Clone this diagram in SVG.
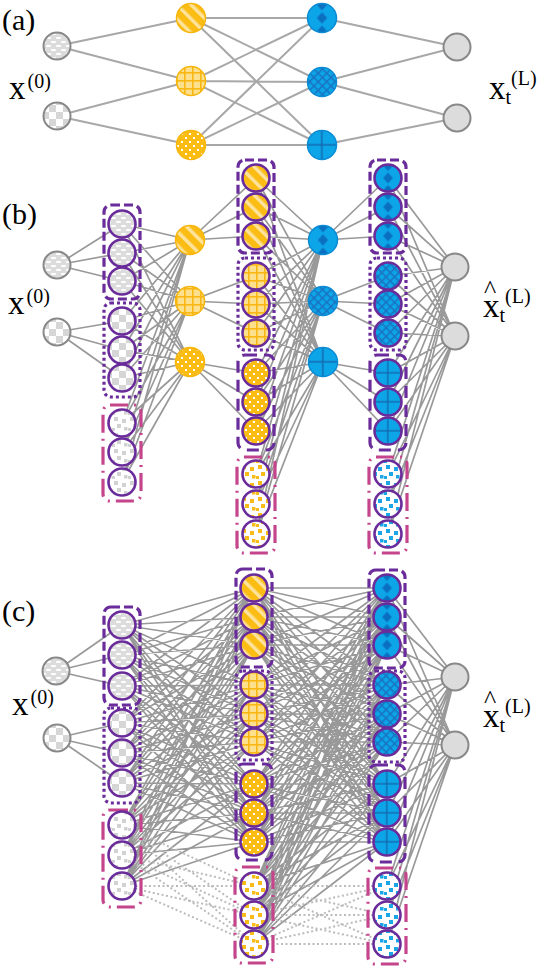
<svg xmlns="http://www.w3.org/2000/svg" width="541" height="967" viewBox="0 0 541 967">
<style>
.lbl{font-family:"Liberation Serif","Times New Roman","DejaVu Serif",serif;font-size:33px;fill:#000}
.hat{font-family:"Liberation Serif","Times New Roman","DejaVu Serif",serif;font-size:26px;fill:#000}
.pl{font-family:"Liberation Serif","Times New Roman","DejaVu Serif",serif;font-size:30px;fill:#000}
.ea{stroke:#a8a8a8;stroke-width:2;fill:none}
.e{stroke:#999;stroke-width:1.7;fill:none}
.ed{stroke:#bbb;stroke-width:2;fill:none;stroke-dasharray:2 2.5}
.in1{fill:url(#gBrick);stroke:#888;stroke-width:2}
.in2{fill:url(#gCheck);stroke:#888;stroke-width:2}
.gs{fill:url(#gScat);stroke:#888;stroke-width:2}
.out{fill:#dcdcdc;stroke:#888;stroke-width:2}
.y1{fill:url(#yStripe);stroke:#f6b60d;stroke-width:1.5}
.y2{fill:url(#yGrid);stroke:#f6b60d;stroke-width:1.5}
.y3{fill:url(#yDots);stroke:#f6b60d;stroke-width:1.5}
.ys{fill:url(#yScat);stroke:#f6b60d;stroke-width:1.5}
.b1{fill:url(#bDia);stroke:#0a8bd4;stroke-width:1.5}
.b2{fill:url(#bHatch);stroke:#0a8bd4;stroke-width:1.5}
.b3{fill:url(#bCross);stroke:#0a8bd4;stroke-width:1.5}
.bs{fill:url(#bScat);stroke:#0a8bd4;stroke-width:1.5}
.cp{stroke:#6a2c9b;stroke-width:2.6}
.bx{fill:none;stroke:#6a2c9b;stroke-width:3.2}
.bx1{stroke-dasharray:9 4}
.bx2{stroke-dasharray:3 3}
.bx3{stroke-dasharray:12 7}
.bxp{fill:none;stroke:#c4458c;stroke-width:3.2;stroke-dasharray:18 6 2 6}
</style>
<defs>
<pattern id="gBrick" patternUnits="userSpaceOnUse" width="10" height="8">
<rect width="10" height="8" fill="#dcdcdc"/>
<rect x="1" y="1" width="5" height="2" rx="1" fill="#fff"/>
<rect x="6" y="5" width="5" height="2" rx="1" fill="#fff"/>
<rect x="-4" y="5" width="5" height="2" rx="1" fill="#fff"/>
</pattern>
<pattern id="gCheck" patternUnits="userSpaceOnUse" width="14" height="14">
<rect width="14" height="14" fill="#fff"/>
<rect width="7" height="7" fill="#d6d6d6"/>
<rect x="7" y="7" width="7" height="7" fill="#d6d6d6"/>
</pattern>
<pattern id="gScat" patternUnits="userSpaceOnUse" width="16" height="16">
<rect width="16" height="16" fill="#fff"/>
<g fill="#d2d2d2"><rect x="2" y="1" width="4" height="4"/><rect x="10" y="3" width="4" height="4"/><rect x="5" y="8" width="4" height="4"/><rect x="12" y="11" width="3.5" height="3.5"/><rect x="0" y="12" width="3" height="3"/></g>
</pattern>
<pattern id="yScat" patternUnits="userSpaceOnUse" width="16" height="16">
<rect width="16" height="16" fill="#fff"/>
<g fill="#f8bb18"><rect x="2" y="1" width="4" height="4"/><rect x="10" y="3" width="4" height="4"/><rect x="5" y="8" width="4" height="4"/><rect x="12" y="11" width="3.5" height="3.5"/><rect x="0" y="12" width="3" height="3"/></g>
</pattern>
<pattern id="bScat" patternUnits="userSpaceOnUse" width="16" height="16">
<rect width="16" height="16" fill="#fff"/>
<g fill="#1ba6e6"><rect x="2" y="1" width="4" height="4"/><rect x="10" y="3" width="4" height="4"/><rect x="5" y="8" width="4" height="4"/><rect x="12" y="11" width="3.5" height="3.5"/><rect x="0" y="12" width="3" height="3"/></g>
</pattern>
<pattern id="yStripe" patternUnits="userSpaceOnUse" width="10" height="10" patternTransform="rotate(-45)">
<rect width="10" height="10" fill="#fbbc14"/>
<rect width="3.5" height="10" fill="#fde39c"/>
</pattern>
<pattern id="yGrid" patternUnits="userSpaceOnUse" width="8" height="8">
<rect width="8" height="8" fill="#fde08e"/>
<rect width="8" height="1.6" fill="#f8b712"/>
<rect width="1.6" height="8" fill="#f8b712"/>
</pattern>
<pattern id="yDots" patternUnits="userSpaceOnUse" width="8" height="8">
<rect width="8" height="8" fill="#fbbc14"/>
<rect x="1" y="1" width="2" height="2" fill="#fff"/>
<rect x="5" y="5" width="2" height="2" fill="#fff"/>
</pattern>
<pattern id="bDia" width="1" height="1" patternContentUnits="objectBoundingBox">
<rect width="1" height="1" fill="#0ca6e8"/>
<g fill="#0b6fc0"><polygon points="0.5,0.3 0.68,0.5 0.5,0.7 0.32,0.5"/><polygon points="0.28,0 0.72,0 0.5,0.24"/><polygon points="0.28,1 0.72,1 0.5,0.76"/></g>
</pattern>
<pattern id="bHatch" patternUnits="userSpaceOnUse" width="6" height="6" patternTransform="rotate(45)">
<rect width="6" height="6" fill="#0ca6e8"/>
<rect width="6" height="1.5" fill="#1a72c0"/>
<rect width="1.5" height="6" fill="#1a72c0"/>
</pattern>
<pattern id="bCross" width="1" height="1" patternContentUnits="objectBoundingBox">
<rect width="1" height="1" fill="#0ca6e8"/>
<rect x="0.47" width="0.05" height="1" fill="#1465ad"/>
<rect y="0.47" width="1" height="0.05" fill="#1465ad"/>
</pattern>
</defs>
<rect width="541" height="967" fill="#fff"/>

<g id="connectors">
<path class="ea" d="M57 46 191 18M57 46 191 81M57 116 191 81M57 116 191 145M191 18 322 18M191 18 322 82M191 18 322 145M191 81 322 18M191 81 322 82M191 81 322 145M191 145 322 18M191 145 322 82M191 145 322 145M322 18 457 47M322 82 457 47M322 82 457 118M322 145 457 118"/>
<path class="e" d="M57 265 122 224M57 265 122 253M57 265 122 281M57 332 122 321M57 332 122 350M57 332 122 378
M122 224 190 240M122 224 190 301M122 224 190 362M122 253 190 240M122 253 190 301M122 253 190 362M122 281 190 240M122 281 190 301M122 281 190 362M122 321 190 240M122 321 190 301M122 321 190 362M122 350 190 240M122 350 190 301M122 350 190 362M122 378 190 240M122 378 190 301M122 378 190 362M122 423 190 240M122 423 190 301M122 423 190 362M122 452 190 240M122 452 190 301M122 452 190 362M122 482 190 240M122 482 190 301M122 482 190 362
M190 240 256 178M190 240 256 207M190 240 256 236M190 301 256 276M190 301 256 304M190 301 256 333M190 362 256 373M190 362 256 402M190 362 256 431
M256 178 323 240M256 178 323 301M256 178 323 362M256 207 323 240M256 207 323 301M256 207 323 362M256 236 323 240M256 236 323 301M256 236 323 362M256 276 323 240M256 276 323 301M256 276 323 362M256 304 323 240M256 304 323 301M256 304 323 362M256 333 323 240M256 333 323 301M256 333 323 362M256 373 323 240M256 373 323 301M256 373 323 362M256 402 323 240M256 402 323 301M256 402 323 362M256 431 323 240M256 431 323 301M256 431 323 362M256 474 323 240M256 474 323 301M256 474 323 362M256 504 323 240M256 504 323 301M256 504 323 362M256 534 323 240M256 534 323 301M256 534 323 362
M323 240 388 178M323 240 388 207M323 240 388 236M323 301 388 276M323 301 388 304M323 301 388 333M323 362 388 373M323 362 388 402M323 362 388 431
M388 178 455 267M388 178 455 336M388 207 455 267M388 207 455 336M388 236 455 267M388 236 455 336M388 276 455 267M388 276 455 336M388 304 455 267M388 304 455 336M388 333 455 267M388 333 455 336M388 373 455 267M388 373 455 336M388 402 455 267M388 402 455 336M388 431 455 267M388 431 455 336M388 474 455 267M388 474 455 336M388 504 455 267M388 504 455 336M388 534 455 267M388 534 455 336"/>
<path class="e" d="M56 671 122 625M56 671 122 655M56 671 122 686M57 738 122 723M57 738 122 753M57 738 122 783
M122 625 254 588M122 625 254 617M122 625 254 645M122 625 254 685M122 625 254 714M122 625 254 742M122 625 254 784M122 625 254 813M122 625 254 842
M122 655 254 588M122 655 254 617M122 655 254 645M122 655 254 685M122 655 254 714M122 655 254 742M122 655 254 784M122 655 254 813M122 655 254 842
M122 686 254 588M122 686 254 617M122 686 254 645M122 686 254 685M122 686 254 714M122 686 254 742M122 686 254 784M122 686 254 813M122 686 254 842
M122 723 254 588M122 723 254 617M122 723 254 645M122 723 254 685M122 723 254 714M122 723 254 742M122 723 254 784M122 723 254 813M122 723 254 842
M122 753 254 588M122 753 254 617M122 753 254 645M122 753 254 685M122 753 254 714M122 753 254 742M122 753 254 784M122 753 254 813M122 753 254 842
M122 783 254 588M122 783 254 617M122 783 254 645M122 783 254 685M122 783 254 714M122 783 254 742M122 783 254 784M122 783 254 813M122 783 254 842
M122 825 254 588M122 825 254 617M122 825 254 645M122 825 254 685M122 825 254 714M122 825 254 742M122 825 254 784M122 825 254 813M122 825 254 842
M122 855 254 588M122 855 254 617M122 855 254 645M122 855 254 685M122 855 254 714M122 855 254 742M122 855 254 784M122 855 254 813M122 855 254 842
M122 886 254 588M122 886 254 617M122 886 254 645M122 886 254 685M122 886 254 714M122 886 254 742M122 886 254 784M122 886 254 813M122 886 254 842
M254 588 387 588M254 588 387 617M254 588 387 645M254 588 387 685M254 588 387 714M254 588 387 742M254 588 387 784M254 588 387 813M254 588 387 842
M254 617 387 588M254 617 387 617M254 617 387 645M254 617 387 685M254 617 387 714M254 617 387 742M254 617 387 784M254 617 387 813M254 617 387 842
M254 645 387 588M254 645 387 617M254 645 387 645M254 645 387 685M254 645 387 714M254 645 387 742M254 645 387 784M254 645 387 813M254 645 387 842
M254 685 387 588M254 685 387 617M254 685 387 645M254 685 387 685M254 685 387 714M254 685 387 742M254 685 387 784M254 685 387 813M254 685 387 842
M254 714 387 588M254 714 387 617M254 714 387 645M254 714 387 685M254 714 387 714M254 714 387 742M254 714 387 784M254 714 387 813M254 714 387 842
M254 742 387 588M254 742 387 617M254 742 387 645M254 742 387 685M254 742 387 714M254 742 387 742M254 742 387 784M254 742 387 813M254 742 387 842
M254 784 387 588M254 784 387 617M254 784 387 645M254 784 387 685M254 784 387 714M254 784 387 742M254 784 387 784M254 784 387 813M254 784 387 842
M254 813 387 588M254 813 387 617M254 813 387 645M254 813 387 685M254 813 387 714M254 813 387 742M254 813 387 784M254 813 387 813M254 813 387 842
M254 842 387 588M254 842 387 617M254 842 387 645M254 842 387 685M254 842 387 714M254 842 387 742M254 842 387 784M254 842 387 813M254 842 387 842
M254 886 387 588M254 886 387 617M254 886 387 645M254 886 387 685M254 886 387 714M254 886 387 742M254 886 387 784M254 886 387 813M254 886 387 842
M254 915 387 588M254 915 387 617M254 915 387 645M254 915 387 685M254 915 387 714M254 915 387 742M254 915 387 784M254 915 387 813M254 915 387 842
M254 944 387 588M254 944 387 617M254 944 387 645M254 944 387 685M254 944 387 714M254 944 387 742M254 944 387 784M254 944 387 813M254 944 387 842
M387 588 455 677M387 588 455 745M387 617 455 677M387 617 455 745M387 645 455 677M387 645 455 745M387 685 455 677M387 685 455 745M387 714 455 677M387 714 455 745M387 742 455 677M387 742 455 745M387 784 455 677M387 784 455 745M387 813 455 677M387 813 455 745M387 842 455 677M387 842 455 745M387 886 455 677M387 886 455 745M387 915 455 677M387 915 455 745M387 944 455 677M387 944 455 745"/>
<path class="ed" d="M122 825 254 886M122 825 254 915M122 825 254 944M122 855 254 886M122 855 254 915M122 855 254 944M122 886 254 886M122 886 254 915M122 886 254 944M254 886 387 886M254 886 387 915M254 886 387 944M254 915 387 886M254 915 387 915M254 915 387 944M254 944 387 886M254 944 387 915M254 944 387 944"/>
</g>

<g id="group-boxes">
<rect class="bx bx1" x="104" y="205" width="36" height="94" rx="7"/>
<rect class="bx bx2" x="104" y="303" width="36" height="94" rx="7"/>
<rect class="bxp" x="103" y="405" width="38" height="96" rx="7"/>
<rect class="bx bx1" x="238" y="160" width="36" height="93" rx="7"/>
<rect class="bx bx2" x="238" y="258" width="36" height="92" rx="7"/>
<rect class="bx bx3" x="238" y="355" width="36" height="95" rx="7"/>
<rect class="bxp" x="237" y="457" width="38" height="96" rx="7"/>
<rect class="bx bx1" x="370" y="160" width="36" height="93" rx="7"/>
<rect class="bx bx2" x="370" y="258" width="36" height="92" rx="7"/>
<rect class="bx bx3" x="370" y="355" width="36" height="95" rx="7"/>
<rect class="bxp" x="369" y="457" width="38" height="96" rx="7"/>
<rect class="bx bx1" x="104" y="607" width="36" height="98" rx="7"/>
<rect class="bx bx2" x="104" y="708" width="36" height="95" rx="7"/>
<rect class="bxp" x="103" y="810" width="38" height="97" rx="7"/>
<rect class="bx bx1" x="236" y="569" width="36" height="98" rx="7"/>
<rect class="bx bx2" x="236" y="671" width="36" height="89" rx="7"/>
<rect class="bx bx3" x="236" y="764" width="36" height="96" rx="7"/>
<rect class="bxp" x="235" y="867" width="38" height="96" rx="7"/>
<rect class="bx bx1" x="369" y="570" width="36" height="98" rx="7"/>
<rect class="bx bx2" x="369" y="671" width="36" height="91" rx="7"/>
<rect class="bx bx3" x="369" y="765" width="36" height="97" rx="7"/>
<rect class="bxp" x="368" y="868" width="38" height="96" rx="7"/>
</g>

<g id="panel-a">
<g id="a-in1"><circle cx="57" cy="46" r="13.5" class="in1"/></g>
<g id="a-in2"><circle cx="57" cy="116" r="13.5" class="in2"/></g>
<g id="a-y1"><circle cx="191" cy="18" r="14.5" class="y1"/></g>
<g id="a-y2"><circle cx="191" cy="81" r="14.5" class="y2"/></g>
<g id="a-y3"><circle cx="191" cy="145" r="14.5" class="y3"/></g>
<g id="a-b1"><circle cx="322" cy="18" r="14.5" class="b1"/></g>
<g id="a-b2"><circle cx="322" cy="82" r="14.5" class="b2"/></g>
<g id="a-b3"><circle cx="322" cy="145" r="14.5" class="b3"/></g>
<g id="a-o1"><circle cx="457" cy="47" r="13.5" class="out"/></g>
<g id="a-o2"><circle cx="457" cy="118" r="13.5" class="out"/></g>
</g>

<g id="panel-b">
<g id="b-in1"><circle cx="57" cy="265" r="13.5" class="in1"/></g>
<g id="b-in2"><circle cx="57" cy="332" r="13.5" class="in2"/></g>
<g id="b-c1-1"><circle cx="122" cy="224" r="13.5" class="in1 cp"/></g>
<g id="b-c1-2"><circle cx="122" cy="253" r="13.5" class="in1 cp"/></g>
<g id="b-c1-3"><circle cx="122" cy="281" r="13.5" class="in1 cp"/></g>
<g id="b-c1-4"><circle cx="122" cy="321" r="13.5" class="in2 cp"/></g>
<g id="b-c1-5"><circle cx="122" cy="350" r="13.5" class="in2 cp"/></g>
<g id="b-c1-6"><circle cx="122" cy="378" r="13.5" class="in2 cp"/></g>
<g id="b-c1-7"><circle cx="122" cy="423" r="13.5" class="gs cp"/></g>
<g id="b-c1-8"><circle cx="122" cy="452" r="13.5" class="gs cp"/></g>
<g id="b-c1-9"><circle cx="122" cy="482" r="13.5" class="gs cp"/></g>
<g id="b-y1"><circle cx="190" cy="240" r="14.5" class="y1"/></g>
<g id="b-y2"><circle cx="190" cy="301" r="14.5" class="y2"/></g>
<g id="b-y3"><circle cx="190" cy="362" r="14.5" class="y3"/></g>
<g id="b-c2-1"><circle cx="256" cy="178" r="13.5" class="y1 cp"/></g>
<g id="b-c2-2"><circle cx="256" cy="207" r="13.5" class="y1 cp"/></g>
<g id="b-c2-3"><circle cx="256" cy="236" r="13.5" class="y1 cp"/></g>
<g id="b-c2-4"><circle cx="256" cy="276" r="13.5" class="y2 cp"/></g>
<g id="b-c2-5"><circle cx="256" cy="304" r="13.5" class="y2 cp"/></g>
<g id="b-c2-6"><circle cx="256" cy="333" r="13.5" class="y2 cp"/></g>
<g id="b-c2-7"><circle cx="256" cy="373" r="13.5" class="y3 cp"/></g>
<g id="b-c2-8"><circle cx="256" cy="402" r="13.5" class="y3 cp"/></g>
<g id="b-c2-9"><circle cx="256" cy="431" r="13.5" class="y3 cp"/></g>
<g id="b-c2-10"><circle cx="256" cy="474" r="13.5" class="ys cp"/></g>
<g id="b-c2-11"><circle cx="256" cy="504" r="13.5" class="ys cp"/></g>
<g id="b-c2-12"><circle cx="256" cy="534" r="13.5" class="ys cp"/></g>
<g id="b-b1"><circle cx="323" cy="240" r="14.5" class="b1"/></g>
<g id="b-b2"><circle cx="323" cy="301" r="14.5" class="b2"/></g>
<g id="b-b3"><circle cx="323" cy="362" r="14.5" class="b3"/></g>
<g id="b-c3-1"><circle cx="388" cy="178" r="13.5" class="b1 cp"/></g>
<g id="b-c3-2"><circle cx="388" cy="207" r="13.5" class="b1 cp"/></g>
<g id="b-c3-3"><circle cx="388" cy="236" r="13.5" class="b1 cp"/></g>
<g id="b-c3-4"><circle cx="388" cy="276" r="13.5" class="b2 cp"/></g>
<g id="b-c3-5"><circle cx="388" cy="304" r="13.5" class="b2 cp"/></g>
<g id="b-c3-6"><circle cx="388" cy="333" r="13.5" class="b2 cp"/></g>
<g id="b-c3-7"><circle cx="388" cy="373" r="13.5" class="b3 cp"/></g>
<g id="b-c3-8"><circle cx="388" cy="402" r="13.5" class="b3 cp"/></g>
<g id="b-c3-9"><circle cx="388" cy="431" r="13.5" class="b3 cp"/></g>
<g id="b-c3-10"><circle cx="388" cy="474" r="13.5" class="bs cp"/></g>
<g id="b-c3-11"><circle cx="388" cy="504" r="13.5" class="bs cp"/></g>
<g id="b-c3-12"><circle cx="388" cy="534" r="13.5" class="bs cp"/></g>
<g id="b-o1"><circle cx="455" cy="267" r="13.5" class="out"/></g>
<g id="b-o2"><circle cx="455" cy="336" r="13.5" class="out"/></g>
</g>

<g id="panel-c">
<g id="c-in1"><circle cx="56" cy="671" r="13.5" class="in1"/></g>
<g id="c-in2"><circle cx="57" cy="738" r="13.5" class="in2"/></g>
<g id="c-c1-1"><circle cx="122" cy="625" r="13.5" class="in1 cp"/></g>
<g id="c-c1-2"><circle cx="122" cy="655" r="13.5" class="in1 cp"/></g>
<g id="c-c1-3"><circle cx="122" cy="686" r="13.5" class="in1 cp"/></g>
<g id="c-c1-4"><circle cx="122" cy="723" r="13.5" class="in2 cp"/></g>
<g id="c-c1-5"><circle cx="122" cy="753" r="13.5" class="in2 cp"/></g>
<g id="c-c1-6"><circle cx="122" cy="783" r="13.5" class="in2 cp"/></g>
<g id="c-c1-7"><circle cx="122" cy="825" r="13.5" class="gs cp"/></g>
<g id="c-c1-8"><circle cx="122" cy="855" r="13.5" class="gs cp"/></g>
<g id="c-c1-9"><circle cx="122" cy="886" r="13.5" class="gs cp"/></g>
<g id="c-c2-1"><circle cx="254" cy="588" r="13.5" class="y1 cp"/></g>
<g id="c-c2-2"><circle cx="254" cy="617" r="13.5" class="y1 cp"/></g>
<g id="c-c2-3"><circle cx="254" cy="645" r="13.5" class="y1 cp"/></g>
<g id="c-c2-4"><circle cx="254" cy="685" r="13.5" class="y2 cp"/></g>
<g id="c-c2-5"><circle cx="254" cy="714" r="13.5" class="y2 cp"/></g>
<g id="c-c2-6"><circle cx="254" cy="742" r="13.5" class="y2 cp"/></g>
<g id="c-c2-7"><circle cx="254" cy="784" r="13.5" class="y3 cp"/></g>
<g id="c-c2-8"><circle cx="254" cy="813" r="13.5" class="y3 cp"/></g>
<g id="c-c2-9"><circle cx="254" cy="842" r="13.5" class="y3 cp"/></g>
<g id="c-c2-10"><circle cx="254" cy="886" r="13.5" class="ys cp"/></g>
<g id="c-c2-11"><circle cx="254" cy="915" r="13.5" class="ys cp"/></g>
<g id="c-c2-12"><circle cx="254" cy="944" r="13.5" class="ys cp"/></g>
<g id="c-c3-1"><circle cx="387" cy="588" r="13.5" class="b1 cp"/></g>
<g id="c-c3-2"><circle cx="387" cy="617" r="13.5" class="b1 cp"/></g>
<g id="c-c3-3"><circle cx="387" cy="645" r="13.5" class="b1 cp"/></g>
<g id="c-c3-4"><circle cx="387" cy="685" r="13.5" class="b2 cp"/></g>
<g id="c-c3-5"><circle cx="387" cy="714" r="13.5" class="b2 cp"/></g>
<g id="c-c3-6"><circle cx="387" cy="742" r="13.5" class="b2 cp"/></g>
<g id="c-c3-7"><circle cx="387" cy="784" r="13.5" class="b3 cp"/></g>
<g id="c-c3-8"><circle cx="387" cy="813" r="13.5" class="b3 cp"/></g>
<g id="c-c3-9"><circle cx="387" cy="842" r="13.5" class="b3 cp"/></g>
<g id="c-c3-10"><circle cx="387" cy="886" r="13.5" class="bs cp"/></g>
<g id="c-c3-11"><circle cx="387" cy="915" r="13.5" class="bs cp"/></g>
<g id="c-c3-12"><circle cx="387" cy="944" r="13.5" class="bs cp"/></g>
<g id="c-o1"><circle cx="455" cy="677" r="13.5" class="out"/></g>
<g id="c-o2"><circle cx="455" cy="745" r="13.5" class="out"/></g>
</g>

<g id="labels">
<text class="pl" x="2" y="30">(a)</text>
<text class="pl" x="2" y="224">(b)</text>
<text class="pl" x="2" y="621">(c)</text>
<text class="lbl" x="9" y="99">x<tspan font-size="20" dx="2" dy="-11">(0)</tspan></text>
<text class="lbl" x="8" y="314">x<tspan font-size="20" dx="2" dy="-11">(0)</tspan></text>
<text class="lbl" x="12" y="715">x<tspan font-size="20" dx="2" dy="-11">(0)</tspan></text>
<text class="lbl" x="489" y="99">x<tspan font-size="20" dy="5">t</tspan><tspan font-size="20" dy="-19">(L)</tspan></text>
<text class="hat" x="484" y="298">^</text>
<text class="lbl" x="483" y="317">x<tspan font-size="20" dy="5">t</tspan><tspan font-size="20" dy="-19">(L)</tspan></text>
<text class="hat" x="484" y="708">^</text>
<text class="lbl" x="483" y="727">x<tspan font-size="20" dy="5">t</tspan><tspan font-size="20" dy="-19">(L)</tspan></text>
</g>
</svg>
